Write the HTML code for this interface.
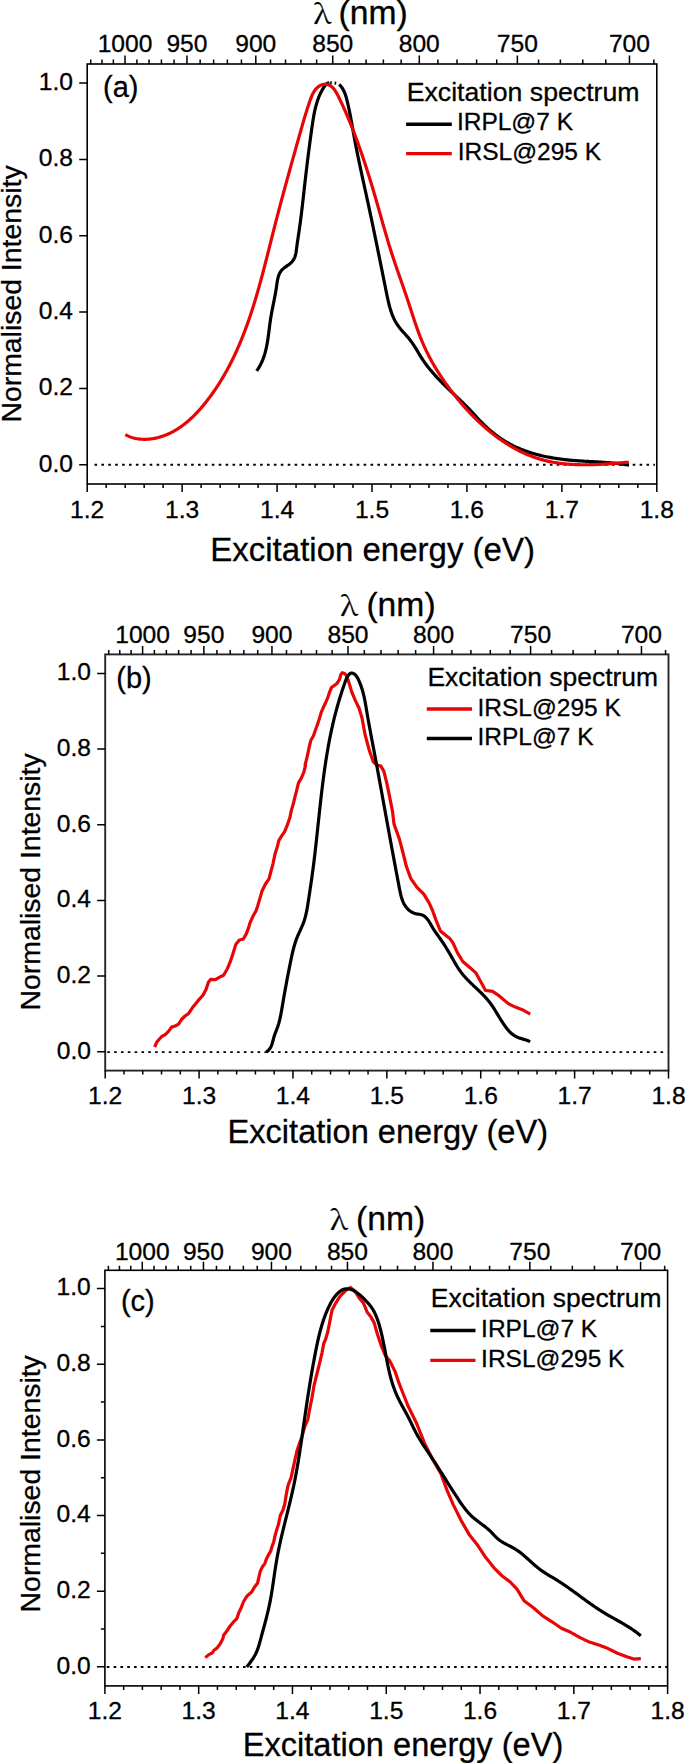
<!DOCTYPE html><html><head><meta charset="utf-8"><style>html,body{margin:0;padding:0;background:#fff;}svg{display:block;}</style></head><body>
<svg width="685" height="1763" viewBox="0 0 685 1763" font-family='"Liberation Sans", Arial, sans-serif' fill="#000">
<style>text{stroke:#000;stroke-width:0.3px;}</style>
<rect width="685" height="1763" fill="#fff"/>
<rect x="87.2" y="64" width="569.6" height="420" fill="none" stroke="#000" stroke-width="1.6"/>
<path d="M87.2 484v8 M106.19 484v4 M125.17 484v4 M144.16 484v4 M163.15 484v4 M182.13 484v8 M201.12 484v4 M220.11 484v4 M239.09 484v4 M258.08 484v4 M277.07 484v8 M296.05 484v4 M315.04 484v4 M334.03 484v4 M353.01 484v4 M372 484v8 M390.99 484v4 M409.97 484v4 M428.96 484v4 M447.95 484v4 M466.93 484v8 M485.92 484v4 M504.91 484v4 M523.89 484v4 M542.88 484v4 M561.87 484v8 M580.85 484v4 M599.84 484v4 M618.83 484v4 M637.81 484v4 M656.8 484v8 M653.83 64v-4.5 M629.46 64v-8.5 M605.78 64v-4.5 M582.75 64v-4.5 M560.36 64v-4.5 M538.57 64v-4.5 M517.36 64v-8.5 M496.71 64v-4.5 M476.6 64v-4.5 M457 64v-4.5 M437.9 64v-4.5 M419.28 64v-8.5 M401.11 64v-4.5 M383.39 64v-4.5 M366.1 64v-4.5 M349.22 64v-4.5 M332.73 64v-8.5 M316.63 64v-4.5 M300.9 64v-4.5 M285.52 64v-4.5 M270.5 64v-4.5 M255.8 64v-8.5 M241.43 64v-4.5 M227.37 64v-4.5 M213.61 64v-4.5 M200.15 64v-4.5 M186.97 64v-8.5 M174.06 64v-4.5 M161.42 64v-4.5 M149.04 64v-4.5 M136.91 64v-4.5 M125.02 64v-8.5 M113.37 64v-4.5 M101.94 64v-4.5 M90.74 64v-4.5 M87.2 464.8h-8 M87.2 388.46h-8 M87.2 312.12h-8 M87.2 235.78h-8 M87.2 159.44h-8 M87.2 83.1h-8" stroke="#000" stroke-width="1.5" fill="none"/>
<line x1="94.5" y1="464.8" x2="655" y2="464.8" stroke="#000" stroke-width="2.1" stroke-dasharray="2.6 4.3"/>
<text x="87.2" y="517.6" font-size="24.6" text-anchor="middle">1.2</text>
<text x="182.13" y="517.6" font-size="24.6" text-anchor="middle">1.3</text>
<text x="277.07" y="517.6" font-size="24.6" text-anchor="middle">1.4</text>
<text x="372" y="517.6" font-size="24.6" text-anchor="middle">1.5</text>
<text x="466.93" y="517.6" font-size="24.6" text-anchor="middle">1.6</text>
<text x="561.87" y="517.6" font-size="24.6" text-anchor="middle">1.7</text>
<text x="656.8" y="517.6" font-size="24.6" text-anchor="middle">1.8</text>
<text x="125.02" y="52" font-size="24.6" text-anchor="middle">1000</text>
<text x="186.97" y="52" font-size="24.6" text-anchor="middle">950</text>
<text x="255.8" y="52" font-size="24.6" text-anchor="middle">900</text>
<text x="332.73" y="52" font-size="24.6" text-anchor="middle">850</text>
<text x="419.28" y="52" font-size="24.6" text-anchor="middle">800</text>
<text x="517.36" y="52" font-size="24.6" text-anchor="middle">750</text>
<text x="629.46" y="52" font-size="24.6" text-anchor="middle">700</text>
<text x="73" y="471.6" font-size="24.6" text-anchor="end">0.0</text>
<text x="73" y="395.26" font-size="24.6" text-anchor="end">0.2</text>
<text x="73" y="318.92" font-size="24.6" text-anchor="end">0.4</text>
<text x="73" y="242.58" font-size="24.6" text-anchor="end">0.6</text>
<text x="73" y="166.24" font-size="24.6" text-anchor="end">0.8</text>
<text x="73" y="89.9" font-size="24.6" text-anchor="end">1.0</text>
<text x="372.6" y="560.9" font-size="33" text-anchor="middle">Excitation energy (eV)</text>
<text transform="translate(313.5 23.7) scale(0.93 0.826)" font-size="33" font-family='"Noto Serif CJK SC", "Liberation Serif", serif'>λ</text>
<text x="338.5" y="23.7" font-size="33.7">(nm)</text>
<text transform="translate(20.6 422.6) rotate(-90)" font-size="28.4">Normalised Intensity</text>
<text x="103" y="96.5" font-size="29">(a)</text>
<text x="406.7" y="100.8" font-size="26.7">Excitation spectrum</text>
<line x1="406.1" y1="124.2" x2="451.8" y2="124.2" stroke="#000" stroke-width="3.4"/>
<text x="456.9" y="129.6" font-size="24.5">IRPL@7 K</text>
<line x1="406.1" y1="153.6" x2="451.8" y2="153.6" stroke="#e80505" stroke-width="3.4"/>
<text x="457.7" y="159.8" font-size="24.5">IRSL@295 K</text>
<path d="M330.2 82.7l1.6 0.1M334.6 83.0l1.6 0.2" stroke="#000" stroke-width="3" fill="none"/>
<path d="M256.66 370.92 L257.37 369.91 L258.05 368.89 L258.7 367.86 L259.33 366.82 L259.92 365.77 L260.49 364.71 L261.03 363.64 L261.55 362.56 L262.04 361.47 L262.51 360.37 L262.95 359.26 L263.37 358.14 L263.77 357.02 L264.15 355.89 L264.51 354.75 L264.86 353.6 L265.18 352.45 L265.49 351.29 L265.78 350.13 L266.06 348.96 L266.32 347.78 L266.57 346.6 L266.81 345.42 L267.03 344.23 L267.25 343.04 L267.45 341.85 L267.64 340.65 L267.83 339.45 L268.01 338.25 L268.18 337.05 L268.35 335.84 L268.51 334.63 L268.67 333.43 L268.83 332.22 L268.98 331.01 L269.13 329.8 L269.28 328.6 L269.43 327.39 L269.59 326.18 L269.74 324.98 L269.9 323.78 L270.06 322.58 L270.23 321.39 L270.4 320.19 L270.58 319 L270.77 317.82 L270.96 316.64 L271.16 315.46 L271.37 314.28 L271.58 313.11 L271.8 311.94 L272.02 310.77 L272.24 309.6 L272.47 308.43 L272.71 307.26 L272.94 306.09 L273.18 304.92 L273.41 303.75 L273.65 302.58 L273.88 301.41 L274.12 300.23 L274.35 299.05 L274.58 297.87 L274.81 296.68 L275.04 295.49 L275.26 294.29 L275.48 293.09 L275.69 291.88 L275.89 290.67 L276.09 289.45 L276.28 288.22 L276.46 286.99 L276.64 285.74 L276.81 284.49 L276.99 283.25 L277.18 282.01 L277.39 280.77 L277.62 279.55 L277.88 278.35 L278.18 277.18 L278.53 276.03 L278.93 274.91 L279.38 273.83 L279.91 272.79 L280.5 271.8 L281.18 270.85 L281.94 269.97 L282.78 269.13 L283.7 268.34 L284.66 267.58 L285.66 266.85 L286.67 266.13 L287.69 265.41 L288.68 264.68 L289.65 263.93 L290.57 263.16 L291.44 262.35 L292.25 261.5 L292.97 260.6 L293.6 259.63 L294.15 258.61 L294.63 257.54 L295.03 256.42 L295.38 255.27 L295.67 254.08 L295.93 252.87 L296.14 251.64 L296.33 250.4 L296.5 249.15 L296.66 247.9 L296.81 246.66 L296.97 245.42 L297.14 244.2 L297.31 242.99 L297.48 241.79 L297.65 240.59 L297.83 239.4 L298.01 238.22 L298.19 237.04 L298.37 235.86 L298.55 234.68 L298.72 233.51 L298.9 232.33 L299.07 231.15 L299.24 229.97 L299.41 228.79 L299.58 227.6 L299.75 226.42 L299.91 225.23 L300.07 224.04 L300.23 222.85 L300.39 221.66 L300.54 220.46 L300.7 219.27 L300.85 218.07 L301 216.88 L301.15 215.68 L301.3 214.48 L301.45 213.28 L301.59 212.08 L301.74 210.88 L301.88 209.68 L302.02 208.48 L302.16 207.27 L302.3 206.07 L302.44 204.87 L302.58 203.66 L302.72 202.46 L302.86 201.26 L302.99 200.05 L303.13 198.85 L303.27 197.64 L303.4 196.44 L303.54 195.23 L303.67 194.03 L303.81 192.83 L303.94 191.62 L304.07 190.42 L304.21 189.22 L304.34 188.01 L304.48 186.81 L304.61 185.61 L304.75 184.41 L304.88 183.21 L305.02 182.02 L305.15 180.82 L305.29 179.62 L305.43 178.43 L305.56 177.23 L305.7 176.04 L305.84 174.85 L305.98 173.66 L306.12 172.47 L306.26 171.28 L306.4 170.09 L306.54 168.9 L306.68 167.71 L306.83 166.52 L306.97 165.34 L307.12 164.15 L307.26 162.96 L307.41 161.78 L307.55 160.59 L307.7 159.4 L307.85 158.22 L308 157.03 L308.15 155.84 L308.3 154.66 L308.45 153.47 L308.6 152.28 L308.75 151.1 L308.91 149.91 L309.06 148.72 L309.22 147.53 L309.37 146.34 L309.53 145.15 L309.69 143.95 L309.84 142.76 L310 141.57 L310.16 140.37 L310.33 139.18 L310.49 137.98 L310.65 136.78 L310.82 135.58 L310.98 134.38 L311.15 133.18 L311.31 131.97 L311.48 130.77 L311.65 129.56 L311.82 128.35 L311.99 127.14 L312.17 125.93 L312.34 124.72 L312.52 123.51 L312.7 122.29 L312.89 121.08 L313.08 119.87 L313.28 118.66 L313.49 117.45 L313.7 116.25 L313.92 115.04 L314.15 113.84 L314.38 112.65 L314.63 111.45 L314.89 110.27 L315.16 109.08 L315.44 107.9 L315.73 106.73 L316.04 105.57 L316.36 104.41 L316.7 103.25 L317.05 102.11 L317.42 100.97 L317.8 99.84 L318.2 98.72 L318.62 97.61 L319.06 96.51 L319.52 95.42 L320 94.34 L320.5 93.27 L321.02 92.21 L321.56 91.16 L322.12 90.13 L322.71 89.11 L323.32 88.1 L323.96 87.11 L324.63 86.13 L325.33 85.18 L326.12 84.32 L327.03 83.59 L328.1 83.05 L329.37 82.75" stroke="#000" stroke-width="3.2" fill="none" stroke-linejoin="round" stroke-linecap="butt"/>
<path d="M339.18 84.43 L340.06 85.31 L340.86 86.22 L341.6 87.17 L342.28 88.15 L342.9 89.16 L343.47 90.2 L343.99 91.26 L344.47 92.34 L344.92 93.44 L345.32 94.56 L345.7 95.7 L346.05 96.84 L346.38 98 L346.69 99.16 L346.99 100.33 L347.28 101.5 L347.56 102.67 L347.84 103.84 L348.11 105.02 L348.37 106.19 L348.63 107.37 L348.89 108.54 L349.14 109.72 L349.38 110.9 L349.62 112.08 L349.86 113.26 L350.09 114.44 L350.32 115.62 L350.54 116.8 L350.77 117.99 L350.99 119.17 L351.2 120.35 L351.42 121.54 L351.63 122.72 L351.85 123.9 L352.06 125.09 L352.27 126.27 L352.48 127.46 L352.69 128.65 L352.9 129.83 L353.11 131.02 L353.32 132.2 L353.53 133.39 L353.74 134.57 L353.96 135.76 L354.17 136.94 L354.39 138.13 L354.61 139.31 L354.83 140.5 L355.06 141.68 L355.28 142.87 L355.51 144.05 L355.74 145.23 L355.97 146.42 L356.2 147.6 L356.44 148.78 L356.67 149.96 L356.91 151.15 L357.14 152.33 L357.38 153.51 L357.62 154.69 L357.86 155.88 L358.11 157.06 L358.35 158.24 L358.6 159.42 L358.84 160.6 L359.09 161.78 L359.34 162.96 L359.59 164.14 L359.83 165.32 L360.09 166.5 L360.34 167.68 L360.59 168.86 L360.84 170.04 L361.09 171.22 L361.35 172.4 L361.6 173.58 L361.86 174.76 L362.11 175.94 L362.37 177.11 L362.63 178.29 L362.88 179.47 L363.14 180.65 L363.4 181.83 L363.65 183 L363.91 184.18 L364.17 185.36 L364.43 186.54 L364.69 187.71 L364.94 188.89 L365.2 190.07 L365.46 191.24 L365.72 192.42 L365.97 193.6 L366.23 194.77 L366.49 195.95 L366.74 197.13 L367 198.3 L367.26 199.48 L367.51 200.65 L367.77 201.83 L368.02 203 L368.27 204.18 L368.53 205.35 L368.78 206.53 L369.03 207.7 L369.28 208.88 L369.53 210.05 L369.78 211.23 L370.03 212.4 L370.28 213.58 L370.53 214.75 L370.78 215.93 L371.03 217.1 L371.28 218.28 L371.52 219.45 L371.77 220.63 L372.02 221.8 L372.26 222.98 L372.51 224.15 L372.76 225.33 L373 226.5 L373.25 227.68 L373.49 228.85 L373.73 230.03 L373.98 231.2 L374.22 232.38 L374.46 233.55 L374.71 234.73 L374.95 235.91 L375.19 237.08 L375.43 238.26 L375.68 239.43 L375.92 240.61 L376.16 241.79 L376.4 242.96 L376.64 244.14 L376.88 245.32 L377.12 246.5 L377.36 247.67 L377.6 248.85 L377.84 250.03 L378.08 251.21 L378.32 252.39 L378.56 253.57 L378.8 254.75 L379.04 255.93 L379.28 257.11 L379.52 258.29 L379.76 259.47 L380 260.65 L380.24 261.83 L380.47 263.01 L380.71 264.19 L380.95 265.38 L381.19 266.56 L381.43 267.74 L381.67 268.93 L381.91 270.11 L382.15 271.29 L382.38 272.48 L382.62 273.67 L382.86 274.85 L383.1 276.04 L383.34 277.22 L383.58 278.41 L383.82 279.6 L384.06 280.79 L384.3 281.98 L384.54 283.17 L384.78 284.36 L385.02 285.55 L385.26 286.74 L385.5 287.93 L385.74 289.12 L385.98 290.31 L386.22 291.51 L386.46 292.7 L386.7 293.9 L386.94 295.09 L387.19 296.28 L387.44 297.47 L387.69 298.66 L387.95 299.85 L388.22 301.04 L388.49 302.22 L388.78 303.39 L389.07 304.57 L389.37 305.73 L389.68 306.9 L390.01 308.05 L390.35 309.2 L390.7 310.34 L391.07 311.47 L391.45 312.6 L391.85 313.71 L392.28 314.82 L392.71 315.91 L393.17 317 L393.65 318.07 L394.16 319.13 L394.68 320.18 L395.23 321.22 L395.81 322.24 L396.41 323.25 L397.04 324.25 L397.69 325.23 L398.38 326.19 L399.09 327.14 L399.82 328.08 L400.58 329 L401.35 329.92 L402.14 330.83 L402.94 331.73 L403.74 332.63 L404.55 333.53 L405.36 334.43 L406.17 335.34 L406.98 336.24 L407.77 337.16 L408.56 338.08 L409.32 339.01 L410.07 339.95 L410.8 340.91 L411.51 341.87 L412.21 342.85 L412.89 343.84 L413.55 344.84 L414.2 345.84 L414.84 346.86 L415.47 347.87 L416.1 348.9 L416.72 349.92 L417.34 350.95 L417.95 351.98 L418.56 353.01 L419.18 354.04 L419.8 355.06 L420.42 356.09 L421.05 357.1 L421.69 358.12 L422.34 359.13 L423 360.12 L423.68 361.12 L424.36 362.1 L425.06 363.08 L425.77 364.04 L426.49 365.01 L427.22 365.96 L427.96 366.91 L428.7 367.85 L429.46 368.78 L430.22 369.71 L431 370.63 L431.77 371.55 L432.56 372.46 L433.35 373.37 L434.15 374.27 L434.95 375.17 L435.76 376.06 L436.57 376.95 L437.39 377.83 L438.22 378.71 L439.05 379.59 L439.88 380.46 L440.72 381.33 L441.56 382.19 L442.41 383.05 L443.26 383.91 L444.11 384.76 L444.97 385.61 L445.83 386.46 L446.69 387.3 L447.55 388.15 L448.42 388.99 L449.29 389.82 L450.16 390.66 L451.03 391.49 L451.9 392.33 L452.78 393.16 L453.65 393.99 L454.53 394.82 L455.4 395.64 L456.28 396.47 L457.15 397.3 L458.03 398.12 L458.9 398.95 L459.77 399.78 L460.64 400.61 L461.51 401.44 L462.38 402.27 L463.24 403.11 L464.1 403.95 L464.96 404.79 L465.81 405.63 L466.65 406.48 L467.5 407.33 L468.34 408.19 L469.17 409.05 L470 409.91 L470.82 410.79 L471.63 411.66 L472.45 412.54 L473.25 413.43 L474.06 414.31 L474.87 415.2 L475.67 416.09 L476.48 416.98 L477.29 417.87 L478.1 418.75 L478.92 419.63 L479.75 420.51 L480.58 421.38 L481.43 422.24 L482.28 423.1 L483.13 423.95 L484 424.8 L484.87 425.63 L485.76 426.46 L486.65 427.29 L487.54 428.1 L488.45 428.91 L489.36 429.71 L490.28 430.5 L491.21 431.28 L492.14 432.06 L493.08 432.82 L494.03 433.58 L494.99 434.32 L495.95 435.06 L496.92 435.78 L497.9 436.5 L498.88 437.2 L499.88 437.89 L500.87 438.57 L501.88 439.24 L502.89 439.9 L503.91 440.55 L504.93 441.18 L505.96 441.81 L507 442.42 L508.04 443.01 L509.09 443.6 L510.14 444.17 L511.2 444.73 L512.27 445.27 L513.34 445.81 L514.42 446.33 L515.5 446.84 L516.59 447.34 L517.68 447.83 L518.78 448.31 L519.88 448.78 L520.99 449.23 L522.1 449.68 L523.22 450.11 L524.34 450.53 L525.46 450.94 L526.59 451.35 L527.73 451.74 L528.86 452.12 L530.01 452.49 L531.15 452.85 L532.3 453.2 L533.45 453.55 L534.61 453.88 L535.77 454.2 L536.93 454.52 L538.09 454.82 L539.26 455.12 L540.43 455.41 L541.61 455.69 L542.78 455.96 L543.96 456.22 L545.14 456.48 L546.33 456.72 L547.51 456.96 L548.7 457.19 L549.89 457.42 L551.08 457.63 L552.27 457.84 L553.46 458.04 L554.66 458.24 L555.86 458.42 L557.05 458.61 L558.25 458.78 L559.45 458.95 L560.65 459.11 L561.85 459.26 L563.06 459.41 L564.26 459.55 L565.46 459.69 L566.66 459.82 L567.87 459.95 L569.07 460.07 L570.27 460.18 L571.47 460.29 L572.68 460.39 L573.88 460.49 L575.08 460.59 L576.28 460.68 L577.48 460.77 L578.68 460.85 L579.88 460.93 L581.08 461.01 L582.28 461.08 L583.48 461.16 L584.68 461.23 L585.88 461.29 L587.08 461.36 L588.27 461.43 L589.47 461.49 L590.67 461.56 L591.87 461.62 L593.07 461.68 L594.26 461.75 L595.46 461.81 L596.66 461.88 L597.86 461.95 L599.05 462.02 L600.25 462.09 L601.45 462.16 L602.64 462.24 L603.84 462.32 L605.04 462.4 L606.24 462.48 L607.43 462.57 L608.63 462.67 L609.83 462.76 L611.03 462.86 L612.23 462.97 L613.42 463.08 L614.62 463.2 L615.82 463.32 L617.02 463.45 L618.22 463.59 L619.42 463.73 L620.62 463.88 L621.82 464.04 L623.02 464.21 L624.22 464.38 L625.42 464.56 L626.63 464.75 L627.83 464.95 L629.03 465.16" stroke="#000" stroke-width="3.2" fill="none" stroke-linejoin="round" stroke-linecap="butt"/>
<path d="M125.27 434.56 L126.31 435.13 L127.37 435.67 L128.44 436.17 L129.53 436.63 L130.63 437.05 L131.75 437.43 L132.88 437.77 L134.02 438.08 L135.17 438.35 L136.33 438.59 L137.5 438.79 L138.68 438.96 L139.87 439.09 L141.06 439.19 L142.26 439.26 L143.47 439.3 L144.67 439.31 L145.88 439.29 L147.09 439.23 L148.31 439.15 L149.52 439.04 L150.73 438.91 L151.94 438.74 L153.15 438.55 L154.36 438.33 L155.56 438.09 L156.75 437.83 L157.94 437.54 L159.12 437.22 L160.3 436.89 L161.46 436.53 L162.62 436.15 L163.77 435.75 L164.9 435.33 L166.02 434.9 L167.14 434.44 L168.24 433.96 L169.33 433.46 L170.42 432.95 L171.49 432.42 L172.55 431.87 L173.6 431.3 L174.65 430.71 L175.68 430.11 L176.7 429.5 L177.72 428.86 L178.72 428.21 L179.72 427.55 L180.7 426.87 L181.68 426.18 L182.65 425.47 L183.61 424.75 L184.56 424.02 L185.5 423.27 L186.43 422.51 L187.35 421.74 L188.27 420.96 L189.17 420.17 L190.07 419.36 L190.96 418.54 L191.84 417.72 L192.72 416.88 L193.58 416.03 L194.44 415.18 L195.29 414.31 L196.14 413.44 L196.97 412.56 L197.8 411.67 L198.62 410.77 L199.43 409.87 L200.24 408.96 L201.04 408.04 L201.83 407.11 L202.61 406.19 L203.39 405.25 L204.16 404.31 L204.93 403.37 L205.69 402.42 L206.44 401.47 L207.18 400.51 L207.92 399.55 L208.66 398.59 L209.38 397.62 L210.1 396.65 L210.82 395.68 L211.53 394.71 L212.23 393.73 L212.93 392.75 L213.62 391.76 L214.3 390.78 L214.98 389.78 L215.65 388.79 L216.32 387.79 L216.98 386.8 L217.64 385.79 L218.29 384.79 L218.94 383.78 L219.58 382.77 L220.21 381.75 L220.84 380.74 L221.46 379.72 L222.08 378.7 L222.69 377.67 L223.3 376.64 L223.9 375.61 L224.5 374.58 L225.09 373.55 L225.68 372.51 L226.26 371.47 L226.84 370.42 L227.41 369.38 L227.98 368.33 L228.54 367.28 L229.1 366.23 L229.65 365.17 L230.2 364.11 L230.74 363.05 L231.28 361.99 L231.81 360.92 L232.34 359.86 L232.87 358.79 L233.39 357.71 L233.91 356.64 L234.42 355.56 L234.93 354.48 L235.43 353.4 L235.93 352.32 L236.42 351.24 L236.91 350.15 L237.4 349.06 L237.88 347.97 L238.36 346.87 L238.83 345.78 L239.31 344.68 L239.77 343.58 L240.23 342.48 L240.69 341.38 L241.15 340.27 L241.6 339.17 L242.05 338.06 L242.49 336.95 L242.93 335.84 L243.37 334.72 L243.8 333.61 L244.23 332.49 L244.66 331.37 L245.08 330.25 L245.5 329.13 L245.92 328 L246.33 326.88 L246.74 325.75 L247.15 324.62 L247.55 323.49 L247.95 322.36 L248.35 321.23 L248.75 320.09 L249.14 318.96 L249.53 317.82 L249.91 316.68 L250.3 315.54 L250.68 314.4 L251.06 313.26 L251.43 312.11 L251.8 310.97 L252.17 309.82 L252.54 308.68 L252.91 307.53 L253.27 306.38 L253.63 305.23 L253.99 304.07 L254.34 302.92 L254.69 301.77 L255.05 300.61 L255.39 299.46 L255.74 298.3 L256.09 297.14 L256.43 295.98 L256.77 294.82 L257.11 293.66 L257.44 292.5 L257.78 291.34 L258.11 290.18 L258.44 289.01 L258.77 287.85 L259.1 286.68 L259.42 285.52 L259.75 284.35 L260.07 283.18 L260.39 282.01 L260.71 280.85 L261.03 279.68 L261.34 278.51 L261.66 277.34 L261.97 276.17 L262.29 275 L262.6 273.82 L262.91 272.65 L263.22 271.48 L263.53 270.31 L263.83 269.13 L264.14 267.96 L264.44 266.79 L264.75 265.61 L265.05 264.44 L265.35 263.26 L265.65 262.09 L265.95 260.91 L266.25 259.74 L266.55 258.56 L266.85 257.39 L267.15 256.21 L267.45 255.04 L267.74 253.86 L268.04 252.69 L268.34 251.51 L268.63 250.33 L268.93 249.16 L269.22 247.98 L269.52 246.81 L269.81 245.63 L270.11 244.46 L270.4 243.28 L270.7 242.11 L270.99 240.93 L271.29 239.76 L271.58 238.59 L271.88 237.41 L272.17 236.24 L272.47 235.07 L272.76 233.9 L273.06 232.72 L273.35 231.55 L273.65 230.38 L273.95 229.21 L274.24 228.04 L274.54 226.87 L274.84 225.7 L275.14 224.53 L275.44 223.36 L275.74 222.2 L276.04 221.03 L276.34 219.86 L276.64 218.7 L276.94 217.53 L277.25 216.37 L277.55 215.2 L277.85 214.04 L278.16 212.88 L278.46 211.72 L278.77 210.55 L279.08 209.39 L279.38 208.23 L279.69 207.07 L280 205.91 L280.31 204.75 L280.61 203.59 L280.92 202.43 L281.23 201.28 L281.54 200.12 L281.85 198.96 L282.16 197.8 L282.47 196.65 L282.79 195.49 L283.1 194.34 L283.41 193.18 L283.72 192.03 L284.04 190.87 L284.35 189.72 L284.66 188.56 L284.98 187.41 L285.29 186.26 L285.61 185.11 L285.92 183.95 L286.24 182.8 L286.55 181.65 L286.87 180.5 L287.19 179.35 L287.5 178.2 L287.82 177.05 L288.14 175.9 L288.46 174.75 L288.77 173.6 L289.09 172.45 L289.41 171.3 L289.73 170.15 L290.05 169 L290.37 167.86 L290.68 166.71 L291 165.56 L291.32 164.41 L291.64 163.27 L291.96 162.12 L292.28 160.97 L292.6 159.83 L292.92 158.68 L293.24 157.53 L293.56 156.39 L293.88 155.24 L294.21 154.1 L294.53 152.95 L294.85 151.81 L295.17 150.66 L295.49 149.52 L295.81 148.37 L296.13 147.23 L296.45 146.08 L296.77 144.94 L297.09 143.79 L297.42 142.65 L297.74 141.51 L298.06 140.36 L298.38 139.22 L298.7 138.07 L299.02 136.93 L299.34 135.79 L299.66 134.64 L299.99 133.5 L300.31 132.35 L300.63 131.21 L300.96 130.06 L301.28 128.91 L301.61 127.76 L301.94 126.61 L302.27 125.46 L302.6 124.31 L302.94 123.15 L303.28 121.99 L303.62 120.83 L303.96 119.67 L304.31 118.5 L304.66 117.33 L305.01 116.16 L305.37 114.98 L305.73 113.8 L306.1 112.62 L306.46 111.43 L306.84 110.24 L307.22 109.05 L307.6 107.85 L307.99 106.64 L308.39 105.43 L308.79 104.22 L309.19 103 L309.6 101.78 L310.03 100.56 L310.46 99.34 L310.92 98.14 L311.39 96.95 L311.88 95.79 L312.4 94.65 L312.95 93.54 L313.53 92.47 L314.14 91.45 L314.79 90.46 L315.48 89.53 L316.22 88.66 L317 87.85 L317.83 87.1 L318.71 86.42 L319.65 85.82 L320.64 85.31 L321.67 84.88 L322.73 84.56 L323.8 84.34 L324.89 84.24 L325.96 84.26 L327.02 84.39 L328.05 84.64 L329.03 84.99 L329.96 85.46 L330.85 86.02 L331.7 86.68 L332.5 87.42 L333.27 88.23 L334.01 89.12 L334.72 90.07 L335.39 91.07 L336.05 92.11 L336.68 93.2 L337.29 94.31 L337.88 95.45 L338.46 96.61 L339.03 97.77 L339.59 98.93 L340.15 100.09 L340.7 101.24 L341.24 102.39 L341.78 103.54 L342.31 104.68 L342.83 105.82 L343.35 106.96 L343.86 108.09 L344.37 109.22 L344.88 110.35 L345.37 111.48 L345.87 112.6 L346.36 113.72 L346.84 114.84 L347.32 115.95 L347.79 117.07 L348.26 118.18 L348.73 119.29 L349.19 120.4 L349.64 121.51 L350.1 122.61 L350.55 123.72 L350.99 124.83 L351.43 125.93 L351.87 127.03 L352.31 128.14 L352.74 129.24 L353.17 130.35 L353.6 131.45 L354.02 132.55 L354.44 133.66 L354.86 134.76 L355.27 135.87 L355.68 136.97 L356.1 138.08 L356.5 139.19 L356.91 140.29 L357.31 141.4 L357.72 142.52 L358.12 143.63 L358.52 144.75 L358.92 145.86 L359.31 146.98 L359.71 148.1 L360.1 149.23 L360.5 150.35 L360.89 151.48 L361.28 152.61 L361.67 153.74 L362.05 154.87 L362.44 156 L362.82 157.14 L363.21 158.28 L363.59 159.41 L363.97 160.55 L364.35 161.69 L364.72 162.84 L365.1 163.98 L365.47 165.12 L365.85 166.27 L366.22 167.42 L366.59 168.56 L366.96 169.71 L367.33 170.86 L367.69 172.01 L368.06 173.17 L368.42 174.32 L368.78 175.47 L369.15 176.63 L369.5 177.78 L369.86 178.94 L370.22 180.09 L370.57 181.25 L370.93 182.41 L371.28 183.56 L371.63 184.72 L371.98 185.88 L372.33 187.04 L372.68 188.2 L373.02 189.36 L373.37 190.51 L373.71 191.67 L374.05 192.83 L374.39 193.99 L374.73 195.15 L375.07 196.31 L375.41 197.47 L375.74 198.63 L376.08 199.79 L376.41 200.95 L376.74 202.11 L377.07 203.27 L377.4 204.43 L377.74 205.59 L378.06 206.74 L378.39 207.9 L378.72 209.06 L379.05 210.22 L379.38 211.38 L379.71 212.53 L380.03 213.69 L380.36 214.85 L380.69 216.01 L381.02 217.16 L381.34 218.32 L381.67 219.48 L382 220.63 L382.33 221.79 L382.66 222.94 L382.98 224.1 L383.31 225.25 L383.64 226.41 L383.97 227.56 L384.31 228.71 L384.64 229.86 L384.97 231.02 L385.3 232.17 L385.64 233.32 L385.98 234.47 L386.31 235.62 L386.65 236.77 L386.99 237.92 L387.33 239.07 L387.68 240.22 L388.02 241.36 L388.36 242.51 L388.71 243.66 L389.06 244.8 L389.41 245.95 L389.76 247.09 L390.12 248.23 L390.48 249.38 L390.83 250.52 L391.19 251.66 L391.56 252.8 L391.92 253.94 L392.29 255.08 L392.66 256.22 L393.03 257.36 L393.41 258.49 L393.78 259.63 L394.16 260.76 L394.54 261.9 L394.93 263.03 L395.31 264.17 L395.7 265.3 L396.08 266.43 L396.47 267.57 L396.86 268.7 L397.25 269.83 L397.65 270.96 L398.04 272.1 L398.43 273.23 L398.83 274.36 L399.22 275.49 L399.62 276.63 L400.02 277.76 L400.41 278.89 L400.81 280.03 L401.21 281.16 L401.6 282.29 L402 283.43 L402.4 284.56 L402.79 285.7 L403.19 286.83 L403.58 287.97 L403.98 289.11 L404.37 290.25 L404.76 291.39 L405.15 292.53 L405.54 293.67 L405.93 294.81 L406.32 295.95 L406.71 297.1 L407.09 298.24 L407.47 299.39 L407.86 300.54 L408.23 301.69 L408.61 302.84 L408.99 303.99 L409.36 305.14 L409.74 306.29 L410.11 307.45 L410.49 308.6 L410.86 309.76 L411.23 310.91 L411.61 312.06 L411.98 313.22 L412.36 314.37 L412.73 315.53 L413.11 316.68 L413.49 317.83 L413.87 318.98 L414.25 320.13 L414.63 321.28 L415.02 322.43 L415.41 323.58 L415.8 324.72 L416.19 325.87 L416.59 327.01 L416.99 328.15 L417.39 329.29 L417.8 330.42 L418.22 331.56 L418.63 332.69 L419.05 333.82 L419.48 334.94 L419.91 336.06 L420.35 337.18 L420.79 338.3 L421.24 339.41 L421.69 340.52 L422.15 341.63 L422.62 342.73 L423.09 343.83 L423.57 344.93 L424.05 346.02 L424.54 347.11 L425.04 348.19 L425.55 349.27 L426.06 350.35 L426.58 351.42 L427.1 352.49 L427.63 353.56 L428.17 354.62 L428.71 355.68 L429.26 356.74 L429.81 357.79 L430.37 358.84 L430.94 359.88 L431.51 360.93 L432.09 361.97 L432.67 363 L433.26 364.03 L433.85 365.06 L434.46 366.09 L435.06 367.11 L435.67 368.14 L436.29 369.15 L436.92 370.17 L437.54 371.18 L438.18 372.19 L438.82 373.19 L439.46 374.2 L440.11 375.19 L440.77 376.19 L441.43 377.19 L442.1 378.18 L442.77 379.17 L443.44 380.15 L444.12 381.14 L444.81 382.12 L445.5 383.1 L446.2 384.07 L446.9 385.05 L447.61 386.02 L448.32 386.99 L449.03 387.95 L449.75 388.92 L450.48 389.88 L451.21 390.84 L451.94 391.79 L452.68 392.75 L453.42 393.7 L454.17 394.65 L454.92 395.6 L455.68 396.54 L456.44 397.49 L457.21 398.43 L457.98 399.37 L458.75 400.3 L459.53 401.23 L460.31 402.16 L461.1 403.09 L461.89 404.01 L462.69 404.93 L463.49 405.85 L464.3 406.76 L465.11 407.67 L465.92 408.57 L466.74 409.48 L467.56 410.37 L468.39 411.27 L469.22 412.16 L470.06 413.05 L470.9 413.93 L471.75 414.8 L472.59 415.68 L473.45 416.55 L474.31 417.41 L475.17 418.27 L476.04 419.12 L476.91 419.97 L477.78 420.82 L478.66 421.66 L479.55 422.49 L480.44 423.32 L481.33 424.14 L482.23 424.96 L483.13 425.77 L484.04 426.58 L484.95 427.38 L485.86 428.17 L486.78 428.96 L487.7 429.74 L488.63 430.52 L489.56 431.29 L490.5 432.05 L491.44 432.81 L492.38 433.56 L493.33 434.3 L494.29 435.04 L495.24 435.77 L496.21 436.5 L497.17 437.21 L498.14 437.92 L499.12 438.62 L500.1 439.32 L501.08 440 L502.07 440.68 L503.06 441.35 L504.05 442.02 L505.05 442.67 L506.06 443.32 L507.07 443.96 L508.08 444.59 L509.1 445.22 L510.12 445.83 L511.14 446.44 L512.17 447.04 L513.21 447.63 L514.25 448.21 L515.29 448.78 L516.33 449.34 L517.38 449.9 L518.44 450.44 L519.5 450.98 L520.56 451.5 L521.63 452.02 L522.7 452.53 L523.78 453.02 L524.86 453.51 L525.94 453.99 L527.03 454.46 L528.12 454.92 L529.22 455.36 L530.32 455.8 L531.42 456.23 L532.53 456.65 L533.64 457.05 L534.76 457.45 L535.88 457.83 L537.01 458.21 L538.14 458.57 L539.27 458.92 L540.41 459.26 L541.55 459.59 L542.69 459.91 L543.84 460.22 L545 460.52 L546.16 460.8 L547.32 461.07 L548.48 461.34 L549.65 461.59 L550.83 461.83 L552 462.05 L553.18 462.27 L554.37 462.48 L555.55 462.68 L556.74 462.86 L557.93 463.04 L559.13 463.21 L560.33 463.36 L561.53 463.51 L562.73 463.65 L563.93 463.78 L565.14 463.9 L566.35 464.01 L567.56 464.12 L568.77 464.21 L569.99 464.3 L571.2 464.38 L572.42 464.45 L573.64 464.51 L574.86 464.57 L576.08 464.62 L577.3 464.66 L578.52 464.69 L579.74 464.72 L580.96 464.74 L582.19 464.76 L583.41 464.76 L584.63 464.77 L585.86 464.76 L587.08 464.75 L588.3 464.74 L589.52 464.72 L590.75 464.69 L591.97 464.66 L593.19 464.62 L594.41 464.58 L595.63 464.54 L596.84 464.49 L598.06 464.44 L599.27 464.38 L600.49 464.32 L601.7 464.25 L602.91 464.18 L604.11 464.11 L605.32 464.04 L606.52 463.96 L607.72 463.88 L608.92 463.79 L610.12 463.71 L611.31 463.62 L612.5 463.53 L613.69 463.44 L614.87 463.35 L616.05 463.25 L617.23 463.15 L618.41 463.06 L619.58 462.96 L620.74 462.86 L621.91 462.76 L623.07 462.66 L624.22 462.55 L625.37 462.45 L626.52 462.35 L627.66 462.25 L628.8 462.15" stroke="#e80505" stroke-width="3.2" fill="none" stroke-linejoin="round" stroke-linecap="butt"/>
<rect x="105.2" y="654.4" width="563.3" height="416.2" fill="none" stroke="#262626" stroke-width="1.9"/>
<path d="M105.2 1070.6v8 M123.98 1070.6v4 M142.75 1070.6v4 M161.53 1070.6v4 M180.31 1070.6v4 M199.08 1070.6v8 M217.86 1070.6v4 M236.64 1070.6v4 M255.41 1070.6v4 M274.19 1070.6v4 M292.97 1070.6v8 M311.74 1070.6v4 M330.52 1070.6v4 M349.3 1070.6v4 M368.07 1070.6v4 M386.85 1070.6v8 M405.63 1070.6v4 M424.4 1070.6v4 M443.18 1070.6v4 M461.96 1070.6v4 M480.73 1070.6v8 M499.51 1070.6v4 M518.29 1070.6v4 M537.06 1070.6v4 M555.84 1070.6v4 M574.62 1070.6v8 M593.39 1070.6v4 M612.17 1070.6v4 M630.95 1070.6v4 M649.72 1070.6v4 M668.5 1070.6v8 M665.56 654.4v-4.5 M641.46 654.4v-8.5 M618.04 654.4v-4.5 M595.27 654.4v-4.5 M573.12 654.4v-4.5 M551.58 654.4v-4.5 M530.6 654.4v-8.5 M510.18 654.4v-4.5 M490.29 654.4v-4.5 M470.91 654.4v-4.5 M452.02 654.4v-4.5 M433.6 654.4v-8.5 M415.64 654.4v-4.5 M398.12 654.4v-4.5 M381.01 654.4v-4.5 M364.32 654.4v-4.5 M348.02 654.4v-8.5 M332.09 654.4v-4.5 M316.53 654.4v-4.5 M301.33 654.4v-4.5 M286.47 654.4v-4.5 M271.94 654.4v-8.5 M257.72 654.4v-4.5 M243.82 654.4v-4.5 M230.22 654.4v-4.5 M216.9 654.4v-4.5 M203.87 654.4v-8.5 M191.1 654.4v-4.5 M178.6 654.4v-4.5 M166.36 654.4v-4.5 M154.36 654.4v-4.5 M142.6 654.4v-8.5 M131.08 654.4v-4.5 M119.78 654.4v-4.5 M108.7 654.4v-4.5 M105.2 1051.7h-8 M105.2 976.04h-8 M105.2 900.38h-8 M105.2 824.72h-8 M105.2 749.06h-8 M105.2 673.4h-8" stroke="#000" stroke-width="1.5" fill="none"/>
<line x1="107.3" y1="1052.1" x2="667.5" y2="1052.1" stroke="#000" stroke-width="1.8" stroke-dasharray="2.6 4.23"/>
<text x="105.2" y="1104" font-size="24.6" text-anchor="middle">1.2</text>
<text x="199.08" y="1104" font-size="24.6" text-anchor="middle">1.3</text>
<text x="292.97" y="1104" font-size="24.6" text-anchor="middle">1.4</text>
<text x="386.85" y="1104" font-size="24.6" text-anchor="middle">1.5</text>
<text x="480.73" y="1104" font-size="24.6" text-anchor="middle">1.6</text>
<text x="574.62" y="1104" font-size="24.6" text-anchor="middle">1.7</text>
<text x="668.5" y="1104" font-size="24.6" text-anchor="middle">1.8</text>
<text x="142.6" y="643" font-size="24.6" text-anchor="middle">1000</text>
<text x="203.87" y="643" font-size="24.6" text-anchor="middle">950</text>
<text x="271.94" y="643" font-size="24.6" text-anchor="middle">900</text>
<text x="348.02" y="643" font-size="24.6" text-anchor="middle">850</text>
<text x="433.6" y="643" font-size="24.6" text-anchor="middle">800</text>
<text x="530.6" y="643" font-size="24.6" text-anchor="middle">750</text>
<text x="641.46" y="643" font-size="24.6" text-anchor="middle">700</text>
<text x="91" y="1058.5" font-size="24.6" text-anchor="end">0.0</text>
<text x="91" y="982.84" font-size="24.6" text-anchor="end">0.2</text>
<text x="91" y="907.18" font-size="24.6" text-anchor="end">0.4</text>
<text x="91" y="831.52" font-size="24.6" text-anchor="end">0.6</text>
<text x="91" y="755.86" font-size="24.6" text-anchor="end">0.8</text>
<text x="91" y="680.2" font-size="24.6" text-anchor="end">1.0</text>
<text x="387.8" y="1142.9" font-size="32.6" text-anchor="middle">Excitation energy (eV)</text>
<text transform="translate(340.2 616.1) scale(0.93 0.826)" font-size="33" font-family='"Noto Serif CJK SC", "Liberation Serif", serif'>λ</text>
<text x="366.4" y="616.1" font-size="33.7">(nm)</text>
<text transform="translate(39.6 1010.5) rotate(-90)" font-size="28.4">Normalised Intensity</text>
<text x="116.3" y="688.2" font-size="29">(b)</text>
<text x="427.4" y="685.7" font-size="26.45">Excitation spectrum</text>
<line x1="426.8" y1="709" x2="472" y2="709" stroke="#e80505" stroke-width="3.4"/>
<text x="477.5" y="716" font-size="24.5">IRSL@295 K</text>
<line x1="426.8" y1="738.5" x2="472" y2="738.5" stroke="#000" stroke-width="3.4"/>
<text x="477.5" y="745.3" font-size="24.5">IRPL@7 K</text>
<path d="M154.7 1047 L157 1041.7 L161.7 1036.5 L165.2 1034.7 L168.7 1031.2 L171.6 1027.1 L175.1 1026 L178.6 1024.2 L181.5 1019.5 L185 1016 L188.5 1013.7 L193.2 1006.7 L197.9 1000.9 L203.1 995 L206.1 989.2 L208.4 982.2 L210.7 979.3 L215.4 979.6 L220.1 976.9 L223.6 975.2 L227.1 969.3 L230.5 961.1 L233.1 953.2 L235.8 944.4 L239.3 940 L243.2 939.2 L246.3 933.9 L248.9 926.9 L249.8 923.4 L253.3 915.5 L255.9 911.2 L257.7 905.9 L260.3 897.1 L262 891 L265.5 884 L269 878.8 L270.5 873 L273.1 863.3 L274.9 854.6 L277.1 847.6 L278.8 840.6 L281.5 836.2 L284.5 831.8 L287.1 825.7 L289.8 817.8 L291.5 809.9 L293.3 803.8 L295 796.8 L296.8 789.8 L298.5 782.8 L301.2 778.4 L303.8 772.3 L305.5 765.3 L305.1 765 L307.3 756.2 L309.1 747.5 L310.9 740.2 L313.5 735.8 L315.7 729.2 L317.9 723.4 L319.7 717.6 L321.2 712.4 L323.4 707.3 L325.5 703 L327.7 697.8 L329.9 691.3 L331.4 687.6 L334.3 685.4 L337.2 683.2 L339.4 679.6 L340.9 674.5 L342.3 672.7 L344.5 673.4 L346.7 675.9 L348.5 681.1 L351.8 692.1 L355.5 700.9 L359.1 708.2 L362 718 L365.2 735.2 L369.3 750.4 L373.4 762 L376.9 765 L380.9 766.1 L383.9 771.4 L386.8 783.1 L389.7 797.1 L392.6 812 L394 824 L399.3 838.9 L402.8 852 L406.3 866.1 L410.7 878.3 L416.8 887.1 L423.8 894.1 L429.1 902.9 L432.6 910.7 L436.1 920.4 L440.4 930.9 L445.7 935.3 L450.1 938.8 L453.1 943.1 L457.5 952.8 L462.8 961.5 L468.9 966.8 L475.9 972.9 L481.2 982.6 L485.5 990.4 L492.6 991.3 L497.8 994.8 L503.1 999.2 L508.3 1003.6 L515.3 1007.1 L522.3 1009.7 L530.2 1014.1" stroke="#e80505" stroke-width="3.2" fill="none" stroke-linejoin="round" stroke-linecap="butt"/>
<path d="M266.51 1051.9 L267.54 1051.15 L268.45 1050.32 L269.25 1049.43 L269.94 1048.48 L270.55 1047.47 L271.08 1046.43 L271.54 1045.34 L271.95 1044.23 L272.31 1043.08 L272.64 1041.92 L272.96 1040.74 L273.26 1039.56 L273.57 1038.37 L273.89 1037.2 L274.24 1036.03 L274.62 1034.88 L275.02 1033.74 L275.45 1032.61 L275.89 1031.49 L276.33 1030.37 L276.77 1029.25 L277.2 1028.14 L277.61 1027.01 L278 1025.88 L278.37 1024.74 L278.72 1023.6 L279.04 1022.44 L279.35 1021.29 L279.64 1020.12 L279.92 1018.95 L280.18 1017.78 L280.43 1016.6 L280.67 1015.42 L280.9 1014.24 L281.12 1013.06 L281.33 1011.87 L281.54 1010.68 L281.75 1009.49 L281.95 1008.3 L282.15 1007.11 L282.35 1005.92 L282.55 1004.73 L282.75 1003.54 L282.96 1002.36 L283.16 1001.17 L283.37 999.98 L283.57 998.8 L283.78 997.61 L283.99 996.43 L284.19 995.25 L284.4 994.06 L284.61 992.88 L284.83 991.7 L285.04 990.52 L285.25 989.34 L285.47 988.16 L285.68 986.97 L285.9 985.79 L286.12 984.61 L286.33 983.43 L286.55 982.26 L286.77 981.08 L287 979.9 L287.22 978.72 L287.44 977.54 L287.67 976.36 L287.9 975.18 L288.12 974 L288.35 972.82 L288.58 971.64 L288.81 970.47 L289.05 969.29 L289.28 968.11 L289.52 966.93 L289.75 965.75 L289.99 964.57 L290.23 963.39 L290.47 962.21 L290.71 961.03 L290.96 959.85 L291.2 958.66 L291.45 957.48 L291.71 956.3 L291.96 955.12 L292.22 953.94 L292.49 952.77 L292.77 951.59 L293.05 950.42 L293.35 949.25 L293.65 948.09 L293.96 946.93 L294.29 945.77 L294.63 944.61 L294.98 943.46 L295.34 942.32 L295.72 941.18 L296.12 940.05 L296.53 938.92 L296.96 937.8 L297.41 936.69 L297.88 935.58 L298.36 934.48 L298.85 933.38 L299.34 932.29 L299.85 931.2 L300.35 930.11 L300.85 929.01 L301.35 927.92 L301.83 926.82 L302.31 925.72 L302.76 924.62 L303.2 923.5 L303.62 922.38 L304.02 921.26 L304.39 920.12 L304.74 918.98 L305.07 917.83 L305.38 916.67 L305.68 915.51 L305.96 914.34 L306.22 913.17 L306.47 911.99 L306.71 910.81 L306.94 909.63 L307.15 908.44 L307.36 907.25 L307.56 906.06 L307.76 904.87 L307.95 903.68 L308.13 902.48 L308.32 901.29 L308.5 900.1 L308.68 898.9 L308.86 897.71 L309.05 896.52 L309.23 895.33 L309.41 894.14 L309.59 892.95 L309.77 891.76 L309.95 890.57 L310.12 889.39 L310.3 888.2 L310.48 887.01 L310.65 885.83 L310.83 884.64 L311 883.45 L311.17 882.27 L311.35 881.08 L311.52 879.89 L311.68 878.71 L311.85 877.52 L312.02 876.33 L312.18 875.15 L312.35 873.96 L312.51 872.77 L312.67 871.58 L312.83 870.39 L312.98 869.21 L313.14 868.02 L313.29 866.83 L313.45 865.64 L313.6 864.45 L313.75 863.26 L313.9 862.06 L314.04 860.87 L314.19 859.68 L314.33 858.49 L314.48 857.3 L314.62 856.1 L314.76 854.91 L314.9 853.72 L315.04 852.52 L315.18 851.33 L315.31 850.14 L315.45 848.94 L315.59 847.75 L315.72 846.55 L315.85 845.36 L315.99 844.16 L316.12 842.97 L316.25 841.77 L316.38 840.57 L316.51 839.38 L316.64 838.18 L316.77 836.99 L316.9 835.79 L317.03 834.59 L317.16 833.4 L317.29 832.2 L317.42 831 L317.54 829.8 L317.67 828.61 L317.8 827.41 L317.93 826.21 L318.05 825.01 L318.18 823.82 L318.31 822.62 L318.43 821.42 L318.56 820.22 L318.69 819.03 L318.82 817.83 L318.94 816.63 L319.07 815.43 L319.2 814.24 L319.33 813.04 L319.46 811.84 L319.59 810.64 L319.72 809.45 L319.85 808.25 L319.98 807.05 L320.11 805.85 L320.24 804.66 L320.37 803.46 L320.51 802.26 L320.64 801.07 L320.78 799.87 L320.91 798.67 L321.05 797.48 L321.18 796.28 L321.32 795.08 L321.46 793.89 L321.6 792.69 L321.74 791.5 L321.89 790.3 L322.03 789.11 L322.17 787.91 L322.32 786.72 L322.47 785.52 L322.62 784.33 L322.77 783.13 L322.92 781.94 L323.07 780.75 L323.22 779.55 L323.38 778.36 L323.54 777.17 L323.7 775.98 L323.86 774.78 L324.02 773.59 L324.18 772.4 L324.35 771.21 L324.52 770.02 L324.68 768.83 L324.86 767.64 L325.03 766.45 L325.2 765.26 L325.38 764.07 L325.56 762.89 L325.74 761.7 L325.92 760.51 L326.11 759.32 L326.3 758.14 L326.49 756.95 L326.68 755.77 L326.87 754.58 L327.07 753.4 L327.27 752.21 L327.47 751.03 L327.67 749.85 L327.88 748.67 L328.09 747.48 L328.3 746.3 L328.51 745.12 L328.73 743.94 L328.95 742.76 L329.17 741.58 L329.4 740.41 L329.63 739.23 L329.86 738.05 L330.09 736.87 L330.33 735.7 L330.57 734.52 L330.81 733.35 L331.06 732.17 L331.31 731 L331.56 729.83 L331.81 728.66 L332.07 727.49 L332.33 726.31 L332.6 725.14 L332.87 723.98 L333.14 722.81 L333.42 721.64 L333.69 720.47 L333.98 719.31 L334.26 718.14 L334.55 716.98 L334.85 715.81 L335.14 714.65 L335.44 713.49 L335.75 712.33 L336.06 711.17 L336.37 710.01 L336.69 708.85 L337 707.69 L337.33 706.53 L337.65 705.37 L337.99 704.21 L338.32 703.06 L338.66 701.9 L339 700.74 L339.35 699.59 L339.7 698.43 L340.05 697.28 L340.41 696.12 L340.77 694.97 L341.14 693.81 L341.51 692.66 L341.88 691.5 L342.26 690.35 L342.65 689.2 L343.03 688.04 L343.42 686.89 L343.82 685.74 L344.22 684.58 L344.62 683.43 L345.03 682.28 L345.44 681.13 L345.87 679.98 L346.34 678.86 L346.85 677.76 L347.42 676.7 L348.06 675.68 L348.79 674.74 L349.6 673.94 L350.49 673.36 L351.45 673.09 L352.47 673.16 L353.5 673.53 L354.5 674.14 L355.42 674.93 L356.22 675.85 L356.92 676.86 L357.54 677.94 L358.11 679.05 L358.65 680.17 L359.17 681.29 L359.65 682.42 L360.12 683.56 L360.56 684.7 L360.98 685.84 L361.38 686.98 L361.76 688.13 L362.12 689.28 L362.47 690.44 L362.79 691.6 L363.11 692.76 L363.4 693.92 L363.69 695.09 L363.96 696.26 L364.22 697.43 L364.47 698.6 L364.7 699.78 L364.93 700.95 L365.16 702.13 L365.37 703.31 L365.58 704.49 L365.79 705.67 L365.99 706.85 L366.19 708.03 L366.39 709.21 L366.59 710.4 L366.78 711.58 L366.98 712.76 L367.18 713.94 L367.39 715.12 L367.59 716.3 L367.8 717.48 L368 718.66 L368.21 719.84 L368.42 721.02 L368.63 722.2 L368.85 723.38 L369.06 724.56 L369.28 725.74 L369.49 726.92 L369.71 728.1 L369.93 729.27 L370.15 730.45 L370.37 731.63 L370.59 732.81 L370.81 733.99 L371.03 735.17 L371.25 736.35 L371.47 737.52 L371.7 738.7 L371.92 739.88 L372.14 741.06 L372.37 742.24 L372.59 743.42 L372.82 744.6 L373.04 745.78 L373.26 746.96 L373.49 748.14 L373.71 749.32 L373.93 750.5 L374.16 751.68 L374.38 752.87 L374.6 754.05 L374.83 755.23 L375.05 756.41 L375.27 757.6 L375.49 758.78 L375.71 759.96 L375.93 761.15 L376.15 762.33 L376.37 763.51 L376.59 764.7 L376.81 765.88 L377.03 767.07 L377.25 768.25 L377.47 769.44 L377.69 770.62 L377.91 771.81 L378.13 772.99 L378.34 774.18 L378.56 775.36 L378.78 776.55 L379 777.74 L379.21 778.92 L379.43 780.11 L379.65 781.29 L379.87 782.48 L380.08 783.66 L380.3 784.85 L380.52 786.04 L380.73 787.22 L380.95 788.41 L381.16 789.59 L381.38 790.78 L381.6 791.96 L381.81 793.15 L382.03 794.33 L382.24 795.52 L382.46 796.7 L382.67 797.88 L382.89 799.07 L383.1 800.25 L383.32 801.44 L383.53 802.62 L383.75 803.8 L383.96 804.98 L384.18 806.17 L384.39 807.35 L384.61 808.53 L384.82 809.71 L385.04 810.89 L385.25 812.08 L385.47 813.26 L385.68 814.44 L385.89 815.62 L386.11 816.79 L386.32 817.97 L386.54 819.15 L386.75 820.33 L386.97 821.51 L387.18 822.68 L387.4 823.86 L387.61 825.04 L387.83 826.21 L388.04 827.39 L388.26 828.56 L388.47 829.74 L388.69 830.92 L388.9 832.09 L389.12 833.27 L389.33 834.44 L389.55 835.61 L389.76 836.79 L389.98 837.96 L390.2 839.14 L390.41 840.32 L390.63 841.49 L390.85 842.67 L391.06 843.84 L391.28 845.02 L391.5 846.19 L391.71 847.37 L391.93 848.55 L392.15 849.73 L392.37 850.9 L392.59 852.08 L392.81 853.26 L393.03 854.44 L393.24 855.62 L393.46 856.8 L393.69 857.98 L393.91 859.17 L394.13 860.35 L394.35 861.53 L394.57 862.72 L394.79 863.9 L395.01 865.09 L395.24 866.28 L395.46 867.46 L395.68 868.65 L395.91 869.84 L396.13 871.04 L396.36 872.23 L396.58 873.42 L396.81 874.62 L397.03 875.81 L397.26 877.01 L397.49 878.21 L397.71 879.41 L397.94 880.61 L398.17 881.81 L398.4 883.02 L398.63 884.22 L398.86 885.43 L399.09 886.64 L399.32 887.85 L399.56 889.06 L399.79 890.27 L400.04 891.47 L400.3 892.67 L400.57 893.87 L400.85 895.05 L401.16 896.22 L401.49 897.38 L401.84 898.52 L402.22 899.65 L402.63 900.75 L403.07 901.83 L403.55 902.89 L404.07 903.92 L404.64 904.93 L405.25 905.9 L405.9 906.84 L406.61 907.75 L407.37 908.62 L408.19 909.45 L409.06 910.24 L410 910.99 L411 911.68 L412.05 912.31 L413.15 912.85 L414.3 913.3 L415.48 913.65 L416.7 913.9 L417.92 914.1 L419.14 914.29 L420.33 914.5 L421.47 914.79 L422.55 915.18 L423.56 915.69 L424.5 916.31 L425.39 917.03 L426.22 917.83 L427 918.72 L427.75 919.66 L428.46 920.66 L429.14 921.71 L429.8 922.78 L430.45 923.88 L431.08 924.98 L431.71 926.08 L432.35 927.17 L432.99 928.24 L433.64 929.28 L434.3 930.3 L434.96 931.3 L435.63 932.28 L436.31 933.25 L436.99 934.21 L437.67 935.17 L438.35 936.12 L439.03 937.08 L439.71 938.04 L440.39 939.01 L441.06 939.99 L441.74 940.97 L442.4 941.96 L443.07 942.96 L443.73 943.96 L444.38 944.97 L445.03 945.98 L445.68 947 L446.32 948.03 L446.96 949.06 L447.59 950.09 L448.21 951.13 L448.83 952.17 L449.45 953.21 L450.06 954.25 L450.66 955.3 L451.26 956.35 L451.85 957.4 L452.44 958.45 L453.03 959.5 L453.62 960.54 L454.21 961.59 L454.81 962.63 L455.41 963.66 L456.02 964.69 L456.64 965.72 L457.26 966.73 L457.9 967.74 L458.55 968.74 L459.22 969.73 L459.9 970.71 L460.6 971.68 L461.31 972.63 L462.05 973.57 L462.8 974.5 L463.57 975.42 L464.35 976.33 L465.15 977.23 L465.96 978.11 L466.79 978.99 L467.62 979.87 L468.47 980.73 L469.32 981.59 L470.18 982.44 L471.04 983.28 L471.91 984.13 L472.78 984.96 L473.66 985.8 L474.54 986.63 L475.42 987.45 L476.29 988.28 L477.17 989.11 L478.04 989.93 L478.91 990.76 L479.77 991.59 L480.63 992.42 L481.48 993.26 L482.33 994.1 L483.16 994.95 L483.99 995.81 L484.81 996.67 L485.61 997.55 L486.41 998.43 L487.19 999.33 L487.95 1000.23 L488.71 1001.15 L489.44 1002.09 L490.16 1003.04 L490.87 1004 L491.56 1004.97 L492.24 1005.96 L492.91 1006.95 L493.57 1007.96 L494.22 1008.97 L494.87 1009.99 L495.5 1011.01 L496.14 1012.04 L496.77 1013.08 L497.4 1014.12 L498.02 1015.16 L498.65 1016.2 L499.28 1017.24 L499.91 1018.28 L500.55 1019.32 L501.19 1020.35 L501.84 1021.38 L502.49 1022.41 L503.16 1023.43 L503.83 1024.44 L504.52 1025.44 L505.22 1026.42 L505.94 1027.4 L506.68 1028.35 L507.43 1029.28 L508.21 1030.18 L509.01 1031.06 L509.83 1031.91 L510.69 1032.72 L511.57 1033.5 L512.48 1034.24 L513.43 1034.94 L514.41 1035.6 L515.42 1036.21 L516.47 1036.76 L517.57 1037.27 L518.7 1037.73 L519.85 1038.14 L521.03 1038.53 L522.22 1038.9 L523.41 1039.25 L524.6 1039.6 L525.78 1039.95 L526.93 1040.32 L528.06 1040.71 L529.15 1041.14 L530.19 1041.6" stroke="#000" stroke-width="3.2" fill="none" stroke-linejoin="round" stroke-linecap="butt"/>
<rect x="104.9" y="1270.3" width="562.7" height="415.6" fill="none" stroke="#000" stroke-width="1.6"/>
<path d="M104.9 1685.9v8 M123.66 1685.9v4 M142.41 1685.9v4 M161.17 1685.9v4 M179.93 1685.9v4 M198.68 1685.9v8 M217.44 1685.9v4 M236.2 1685.9v4 M254.95 1685.9v4 M273.71 1685.9v4 M292.47 1685.9v8 M311.22 1685.9v4 M329.98 1685.9v4 M348.74 1685.9v4 M367.49 1685.9v4 M386.25 1685.9v8 M405.01 1685.9v4 M423.76 1685.9v4 M442.52 1685.9v4 M461.28 1685.9v4 M480.03 1685.9v8 M498.79 1685.9v4 M517.55 1685.9v4 M536.3 1685.9v4 M555.06 1685.9v4 M573.82 1685.9v8 M592.57 1685.9v4 M611.33 1685.9v4 M630.09 1685.9v4 M648.84 1685.9v4 M667.6 1685.9v8 M664.66 1270.3v-4.5 M640.59 1270.3v-8.5 M617.19 1270.3v-4.5 M594.45 1270.3v-4.5 M572.33 1270.3v-4.5 M550.8 1270.3v-4.5 M529.85 1270.3v-8.5 M509.45 1270.3v-4.5 M489.58 1270.3v-4.5 M470.22 1270.3v-4.5 M451.35 1270.3v-4.5 M432.95 1270.3v-8.5 M415.01 1270.3v-4.5 M397.5 1270.3v-4.5 M380.42 1270.3v-4.5 M363.74 1270.3v-4.5 M347.46 1270.3v-8.5 M331.55 1270.3v-4.5 M316.01 1270.3v-4.5 M300.82 1270.3v-4.5 M285.98 1270.3v-4.5 M271.46 1270.3v-8.5 M257.26 1270.3v-4.5 M243.37 1270.3v-4.5 M229.78 1270.3v-4.5 M216.48 1270.3v-4.5 M203.46 1270.3v-8.5 M190.71 1270.3v-4.5 M178.23 1270.3v-4.5 M165.99 1270.3v-4.5 M154.01 1270.3v-4.5 M142.26 1270.3v-8.5 M130.75 1270.3v-4.5 M119.46 1270.3v-4.5 M108.4 1270.3v-4.5 M104.9 1666.8h-8 M104.9 1628.98h-4 M104.9 1591.16h-8 M104.9 1553.34h-4 M104.9 1515.52h-8 M104.9 1477.7h-4 M104.9 1439.88h-8 M104.9 1402.06h-4 M104.9 1364.24h-8 M104.9 1326.42h-4 M104.9 1288.6h-8" stroke="#000" stroke-width="1.5" fill="none"/>
<line x1="106.8" y1="1667" x2="667" y2="1667" stroke="#000" stroke-width="1.9" stroke-dasharray="2.6 4.21"/>
<text x="104.9" y="1719.2" font-size="24.6" text-anchor="middle">1.2</text>
<text x="198.68" y="1719.2" font-size="24.6" text-anchor="middle">1.3</text>
<text x="292.47" y="1719.2" font-size="24.6" text-anchor="middle">1.4</text>
<text x="386.25" y="1719.2" font-size="24.6" text-anchor="middle">1.5</text>
<text x="480.03" y="1719.2" font-size="24.6" text-anchor="middle">1.6</text>
<text x="573.82" y="1719.2" font-size="24.6" text-anchor="middle">1.7</text>
<text x="667.6" y="1719.2" font-size="24.6" text-anchor="middle">1.8</text>
<text x="142.26" y="1260.4" font-size="24.6" text-anchor="middle">1000</text>
<text x="203.46" y="1260.4" font-size="24.6" text-anchor="middle">950</text>
<text x="271.46" y="1260.4" font-size="24.6" text-anchor="middle">900</text>
<text x="347.46" y="1260.4" font-size="24.6" text-anchor="middle">850</text>
<text x="432.95" y="1260.4" font-size="24.6" text-anchor="middle">800</text>
<text x="529.85" y="1260.4" font-size="24.6" text-anchor="middle">750</text>
<text x="640.59" y="1260.4" font-size="24.6" text-anchor="middle">700</text>
<text x="90.7" y="1673.6" font-size="24.6" text-anchor="end">0.0</text>
<text x="90.7" y="1597.96" font-size="24.6" text-anchor="end">0.2</text>
<text x="90.7" y="1522.32" font-size="24.6" text-anchor="end">0.4</text>
<text x="90.7" y="1446.68" font-size="24.6" text-anchor="end">0.6</text>
<text x="90.7" y="1371.04" font-size="24.6" text-anchor="end">0.8</text>
<text x="90.7" y="1295.4" font-size="24.6" text-anchor="end">1.0</text>
<text x="403" y="1755.8" font-size="32.6" text-anchor="middle">Excitation energy (eV)</text>
<text transform="translate(330 1229.7) scale(0.93 0.826)" font-size="33" font-family='"Noto Serif CJK SC", "Liberation Serif", serif'>λ</text>
<text x="356.1" y="1229.7" font-size="33.7">(nm)</text>
<text transform="translate(39.6 1612.4) rotate(-90)" font-size="28.4">Normalised Intensity</text>
<text x="120.9" y="1310.6" font-size="29">(c)</text>
<text x="430.8" y="1307.4" font-size="26.45">Excitation spectrum</text>
<line x1="430.3" y1="1330.5" x2="475.5" y2="1330.5" stroke="#000" stroke-width="3.4"/>
<text x="481.1" y="1337.2" font-size="24.5">IRPL@7 K</text>
<line x1="430.3" y1="1360.4" x2="475.5" y2="1360.4" stroke="#e80505" stroke-width="3.4"/>
<text x="481.1" y="1367" font-size="24.5">IRSL@295 K</text>
<path d="M205.3 1657.6 L208.8 1654.6 L212.3 1652.8 L214 1650.2 L216.6 1648.4 L220.1 1644.1 L222.8 1638.8 L223.6 1635.3 L226.3 1631.8 L229.8 1626.5 L233.3 1622.2 L236.8 1618.7 L238.5 1613.4 L240.7 1608.8 L243.6 1601.5 L247.3 1595.7 L251.7 1592 L254.6 1586.9 L257.5 1583.3 L259 1576.7 L260.4 1570.9 L262.6 1566.5 L264.8 1563.6 L266.3 1559.2 L268.5 1554.8 L270.7 1551.2 L272.1 1546.1 L273.6 1542.4 L275 1535.8 L276.8 1529.5 L278.5 1524.3 L280.3 1515.5 L282.9 1510.3 L284.7 1504.2 L286.4 1493.6 L288.2 1484.9 L291.1 1477.6 L294 1464.2 L296.9 1451.1 L299.1 1444.5 L302 1436.5 L304.9 1426.3 L307.8 1419.7 L309.3 1410.9 L311.8 1398.8 L314 1385.7 L316.9 1374 L319.8 1362.3 L322 1352.8 L323.8 1343.4 L325.7 1339 L327.8 1331.7 L332 1310.3 L335.6 1303.3 L339.9 1296.3 L345.2 1291 L350.4 1287.5 L354.8 1291 L359.2 1298 L363.6 1303.3 L367.1 1312 L370.6 1316.4 L374.1 1322.6 L377.6 1334.8 L381.1 1345.3 L385.5 1355.8 L389.9 1361.1 L395.1 1371.6 L398.6 1382.1 L402.1 1391 L408.2 1406.3 L416.3 1422.7 L424.5 1443.1 L432.7 1459.5 L440.9 1473.8 L447 1490.1 L453.1 1504.4 L461.3 1520.8 L469.5 1535.1 L477.7 1545.3 L485.8 1557.6 L494 1567.8 L502.2 1576 L510.2 1582 L517 1589.1 L524 1600.7 L533.4 1607.7 L542.7 1615.9 L552 1621.8 L561.4 1628.3 L570.7 1632.3 L580.1 1637.6 L589.4 1642.1 L598.8 1645.1 L608.1 1648.6 L617.5 1653.3 L626.8 1656.8 L633.8 1659.1 L640.8 1658.7" stroke="#e80505" stroke-width="3.2" fill="none" stroke-linejoin="round" stroke-linecap="butt"/>
<path d="M246.8 1667.02 L247.51 1666.08 L248.23 1665.13 L248.94 1664.18 L249.66 1663.22 L250.36 1662.25 L251.06 1661.27 L251.75 1660.29 L252.42 1659.3 L253.08 1658.29 L253.72 1657.28 L254.33 1656.25 L254.93 1655.21 L255.49 1654.16 L256.02 1653.09 L256.53 1652.01 L256.99 1650.91 L257.43 1649.8 L257.85 1648.68 L258.23 1647.55 L258.6 1646.41 L258.95 1645.26 L259.29 1644.11 L259.62 1642.95 L259.94 1641.79 L260.25 1640.62 L260.56 1639.45 L260.87 1638.29 L261.19 1637.12 L261.5 1635.96 L261.82 1634.79 L262.14 1633.63 L262.46 1632.46 L262.77 1631.3 L263.09 1630.14 L263.41 1628.97 L263.73 1627.81 L264.04 1626.65 L264.36 1625.48 L264.67 1624.32 L264.98 1623.15 L265.29 1621.99 L265.6 1620.82 L265.91 1619.66 L266.21 1618.49 L266.51 1617.33 L266.8 1616.16 L267.09 1614.99 L267.38 1613.83 L267.66 1612.66 L267.94 1611.49 L268.22 1610.32 L268.49 1609.14 L268.75 1607.97 L269.01 1606.8 L269.26 1605.62 L269.51 1604.45 L269.75 1603.27 L269.98 1602.09 L270.21 1600.91 L270.44 1599.73 L270.65 1598.55 L270.87 1597.36 L271.08 1596.18 L271.28 1595 L271.48 1593.81 L271.68 1592.62 L271.87 1591.44 L272.06 1590.25 L272.25 1589.06 L272.43 1587.87 L272.62 1586.68 L272.8 1585.49 L272.98 1584.3 L273.15 1583.11 L273.33 1581.92 L273.5 1580.73 L273.68 1579.54 L273.85 1578.35 L274.02 1577.16 L274.2 1575.97 L274.37 1574.77 L274.55 1573.58 L274.72 1572.39 L274.9 1571.2 L275.08 1570.01 L275.26 1568.82 L275.44 1567.63 L275.62 1566.44 L275.81 1565.26 L276 1564.07 L276.19 1562.88 L276.39 1561.69 L276.59 1560.51 L276.79 1559.32 L277 1558.14 L277.21 1556.96 L277.43 1555.77 L277.65 1554.59 L277.88 1553.41 L278.11 1552.23 L278.34 1551.05 L278.58 1549.87 L278.82 1548.7 L279.07 1547.52 L279.31 1546.34 L279.57 1545.17 L279.82 1543.99 L280.08 1542.82 L280.34 1541.65 L280.6 1540.47 L280.87 1539.3 L281.14 1538.13 L281.41 1536.96 L281.68 1535.79 L281.96 1534.62 L282.24 1533.45 L282.52 1532.28 L282.8 1531.11 L283.08 1529.94 L283.37 1528.77 L283.65 1527.6 L283.94 1526.43 L284.23 1525.27 L284.52 1524.1 L284.81 1522.93 L285.1 1521.76 L285.39 1520.6 L285.68 1519.43 L285.98 1518.26 L286.27 1517.09 L286.56 1515.93 L286.85 1514.76 L287.15 1513.59 L287.44 1512.43 L287.73 1511.26 L288.02 1510.09 L288.31 1508.92 L288.6 1507.76 L288.89 1506.59 L289.18 1505.42 L289.46 1504.25 L289.75 1503.08 L290.03 1501.91 L290.31 1500.74 L290.59 1499.57 L290.87 1498.4 L291.15 1497.23 L291.42 1496.06 L291.69 1494.89 L291.96 1493.72 L292.23 1492.54 L292.49 1491.37 L292.75 1490.2 L293.01 1489.02 L293.26 1487.85 L293.51 1486.67 L293.76 1485.5 L294.01 1484.32 L294.25 1483.14 L294.49 1481.96 L294.72 1480.78 L294.96 1479.6 L295.19 1478.42 L295.42 1477.24 L295.64 1476.06 L295.86 1474.88 L296.08 1473.7 L296.3 1472.52 L296.52 1471.33 L296.73 1470.15 L296.94 1468.97 L297.15 1467.78 L297.35 1466.6 L297.56 1465.41 L297.76 1464.23 L297.96 1463.04 L298.16 1461.85 L298.35 1460.67 L298.55 1459.48 L298.74 1458.29 L298.93 1457.1 L299.12 1455.91 L299.31 1454.73 L299.49 1453.54 L299.68 1452.35 L299.86 1451.16 L300.04 1449.97 L300.22 1448.78 L300.4 1447.59 L300.58 1446.4 L300.76 1445.21 L300.93 1444.02 L301.11 1442.83 L301.29 1441.64 L301.46 1440.45 L301.63 1439.25 L301.81 1438.06 L301.98 1436.87 L302.15 1435.68 L302.32 1434.49 L302.49 1433.3 L302.66 1432.11 L302.83 1430.92 L303 1429.72 L303.17 1428.53 L303.34 1427.34 L303.51 1426.15 L303.68 1424.96 L303.85 1423.77 L304.02 1422.58 L304.19 1421.39 L304.36 1420.19 L304.53 1419 L304.7 1417.81 L304.88 1416.62 L305.05 1415.43 L305.22 1414.24 L305.39 1413.05 L305.57 1411.86 L305.74 1410.67 L305.92 1409.48 L306.09 1408.29 L306.27 1407.1 L306.44 1405.91 L306.62 1404.72 L306.8 1403.54 L306.98 1402.35 L307.16 1401.16 L307.34 1399.97 L307.52 1398.78 L307.7 1397.59 L307.88 1396.4 L308.07 1395.22 L308.25 1394.03 L308.44 1392.84 L308.62 1391.65 L308.81 1390.47 L309 1389.28 L309.19 1388.09 L309.38 1386.9 L309.57 1385.72 L309.76 1384.53 L309.95 1383.34 L310.15 1382.16 L310.34 1380.97 L310.54 1379.78 L310.74 1378.6 L310.93 1377.41 L311.13 1376.22 L311.34 1375.04 L311.54 1373.85 L311.74 1372.67 L311.95 1371.48 L312.15 1370.3 L312.36 1369.11 L312.57 1367.93 L312.78 1366.74 L312.99 1365.56 L313.21 1364.37 L313.42 1363.19 L313.64 1362 L313.86 1360.82 L314.08 1359.63 L314.3 1358.45 L314.52 1357.27 L314.75 1356.08 L314.97 1354.9 L315.2 1353.71 L315.43 1352.53 L315.66 1351.35 L315.89 1350.17 L316.13 1348.98 L316.37 1347.8 L316.61 1346.62 L316.85 1345.44 L317.1 1344.26 L317.35 1343.08 L317.6 1341.9 L317.86 1340.72 L318.12 1339.54 L318.39 1338.37 L318.66 1337.2 L318.93 1336.03 L319.22 1334.86 L319.51 1333.69 L319.8 1332.52 L320.1 1331.36 L320.41 1330.2 L320.72 1329.04 L321.05 1327.88 L321.38 1326.73 L321.71 1325.58 L322.06 1324.43 L322.41 1323.29 L322.78 1322.15 L323.15 1321.01 L323.53 1319.87 L323.92 1318.74 L324.32 1317.61 L324.74 1316.49 L325.16 1315.37 L325.59 1314.26 L326.04 1313.15 L326.49 1312.04 L326.96 1310.94 L327.44 1309.84 L327.93 1308.75 L328.43 1307.66 L328.95 1306.57 L329.48 1305.5 L330.02 1304.42 L330.58 1303.36 L331.16 1302.3 L331.76 1301.25 L332.39 1300.2 L333.04 1299.17 L333.73 1298.15 L334.45 1297.14 L335.2 1296.15 L336 1295.17 L336.83 1294.22 L337.71 1293.3 L338.62 1292.44 L339.56 1291.64 L340.54 1290.92 L341.55 1290.29 L342.6 1289.76 L343.67 1289.34 L344.76 1289.04 L345.87 1288.85 L346.98 1288.78 L348.1 1288.83 L349.21 1289 L350.31 1289.28 L351.4 1289.64 L352.49 1290.09 L353.55 1290.6 L354.6 1291.16 L355.63 1291.78 L356.65 1292.45 L357.64 1293.17 L358.63 1293.92 L359.59 1294.7 L360.54 1295.52 L361.47 1296.36 L362.39 1297.21 L363.28 1298.09 L364.17 1298.97 L365.03 1299.86 L365.88 1300.75 L366.71 1301.64 L367.52 1302.52 L368.32 1303.41 L369.09 1304.3 L369.83 1305.2 L370.56 1306.12 L371.25 1307.06 L371.91 1308.02 L372.54 1309 L373.15 1310 L373.73 1311.02 L374.28 1312.06 L374.81 1313.11 L375.32 1314.19 L375.8 1315.27 L376.27 1316.37 L376.71 1317.49 L377.14 1318.61 L377.55 1319.74 L377.94 1320.89 L378.32 1322.04 L378.68 1323.19 L379.04 1324.35 L379.38 1325.52 L379.71 1326.69 L380.03 1327.86 L380.35 1329.03 L380.65 1330.2 L380.95 1331.38 L381.24 1332.56 L381.52 1333.74 L381.8 1334.92 L382.07 1336.1 L382.33 1337.28 L382.59 1338.47 L382.84 1339.65 L383.09 1340.84 L383.33 1342.02 L383.57 1343.21 L383.81 1344.4 L384.04 1345.59 L384.27 1346.78 L384.5 1347.97 L384.73 1349.16 L384.95 1350.35 L385.18 1351.53 L385.4 1352.72 L385.62 1353.91 L385.85 1355.1 L386.07 1356.29 L386.29 1357.47 L386.52 1358.66 L386.75 1359.84 L386.98 1361.03 L387.21 1362.21 L387.44 1363.39 L387.68 1364.57 L387.93 1365.75 L388.17 1366.93 L388.42 1368.1 L388.68 1369.27 L388.94 1370.44 L389.21 1371.61 L389.48 1372.78 L389.76 1373.94 L390.05 1375.11 L390.35 1376.26 L390.65 1377.42 L390.96 1378.57 L391.28 1379.72 L391.61 1380.87 L391.95 1382.02 L392.3 1383.16 L392.65 1384.3 L393.02 1385.43 L393.4 1386.56 L393.8 1387.69 L394.2 1388.81 L394.62 1389.93 L395.04 1391.04 L395.49 1392.15 L395.94 1393.26 L396.41 1394.36 L396.89 1395.46 L397.39 1396.55 L397.9 1397.64 L398.43 1398.72 L398.97 1399.8 L399.52 1400.88 L400.07 1401.95 L400.64 1403.02 L401.21 1404.09 L401.79 1405.16 L402.37 1406.23 L402.95 1407.29 L403.54 1408.35 L404.13 1409.42 L404.71 1410.48 L405.3 1411.55 L405.88 1412.61 L406.45 1413.68 L407.03 1414.75 L407.59 1415.82 L408.15 1416.89 L408.69 1417.97 L409.23 1419.04 L409.77 1420.12 L410.3 1421.2 L410.82 1422.29 L411.35 1423.37 L411.87 1424.45 L412.39 1425.53 L412.91 1426.6 L413.44 1427.68 L413.97 1428.75 L414.5 1429.82 L415.04 1430.89 L415.59 1431.95 L416.15 1433.01 L416.72 1434.06 L417.3 1435.11 L417.89 1436.15 L418.49 1437.19 L419.1 1438.23 L419.71 1439.26 L420.33 1440.28 L420.96 1441.31 L421.6 1442.33 L422.24 1443.34 L422.89 1444.36 L423.54 1445.37 L424.19 1446.38 L424.85 1447.39 L425.52 1448.39 L426.18 1449.4 L426.85 1450.4 L427.52 1451.4 L428.19 1452.4 L428.86 1453.41 L429.54 1454.41 L430.21 1455.41 L430.88 1456.41 L431.55 1457.41 L432.22 1458.42 L432.88 1459.42 L433.55 1460.43 L434.21 1461.44 L434.86 1462.45 L435.52 1463.46 L436.17 1464.47 L436.82 1465.48 L437.47 1466.49 L438.12 1467.51 L438.77 1468.52 L439.41 1469.54 L440.05 1470.55 L440.69 1471.57 L441.33 1472.59 L441.97 1473.61 L442.61 1474.63 L443.25 1475.64 L443.89 1476.66 L444.52 1477.68 L445.16 1478.7 L445.8 1479.72 L446.43 1480.74 L447.07 1481.76 L447.71 1482.78 L448.35 1483.8 L448.98 1484.82 L449.62 1485.83 L450.26 1486.85 L450.91 1487.87 L451.55 1488.88 L452.19 1489.9 L452.84 1490.91 L453.49 1491.93 L454.14 1492.94 L454.79 1493.95 L455.44 1494.96 L456.1 1495.97 L456.75 1496.98 L457.41 1497.98 L458.08 1498.99 L458.75 1499.99 L459.42 1500.99 L460.09 1501.99 L460.77 1502.98 L461.46 1503.96 L462.16 1504.94 L462.86 1505.92 L463.58 1506.88 L464.3 1507.84 L465.04 1508.78 L465.78 1509.72 L466.54 1510.64 L467.31 1511.56 L468.1 1512.45 L468.9 1513.34 L469.71 1514.21 L470.55 1515.07 L471.4 1515.91 L472.26 1516.73 L473.15 1517.53 L474.06 1518.32 L474.98 1519.09 L475.92 1519.84 L476.87 1520.58 L477.84 1521.32 L478.81 1522.04 L479.78 1522.76 L480.77 1523.48 L481.75 1524.2 L482.73 1524.92 L483.7 1525.65 L484.67 1526.38 L485.63 1527.12 L486.57 1527.88 L487.51 1528.65 L488.42 1529.45 L489.32 1530.26 L490.19 1531.09 L491.04 1531.95 L491.88 1532.82 L492.7 1533.7 L493.52 1534.59 L494.34 1535.47 L495.17 1536.34 L496.01 1537.19 L496.87 1538.02 L497.76 1538.81 L498.67 1539.57 L499.62 1540.29 L500.59 1540.97 L501.59 1541.62 L502.61 1542.24 L503.65 1542.84 L504.7 1543.42 L505.77 1543.99 L506.84 1544.55 L507.92 1545.1 L509.01 1545.65 L510.09 1546.2 L511.16 1546.76 L512.23 1547.33 L513.29 1547.92 L514.34 1548.52 L515.36 1549.15 L516.37 1549.8 L517.37 1550.47 L518.35 1551.16 L519.32 1551.87 L520.27 1552.59 L521.22 1553.33 L522.15 1554.08 L523.08 1554.85 L524 1555.62 L524.91 1556.41 L525.81 1557.2 L526.71 1558 L527.61 1558.8 L528.5 1559.61 L529.4 1560.42 L530.29 1561.23 L531.18 1562.04 L532.08 1562.84 L532.97 1563.64 L533.88 1564.44 L534.78 1565.23 L535.7 1566.01 L536.62 1566.78 L537.54 1567.54 L538.48 1568.29 L539.43 1569.02 L540.39 1569.74 L541.36 1570.44 L542.34 1571.13 L543.33 1571.8 L544.33 1572.46 L545.34 1573.11 L546.36 1573.75 L547.38 1574.39 L548.4 1575.02 L549.43 1575.64 L550.47 1576.26 L551.5 1576.88 L552.54 1577.49 L553.57 1578.11 L554.6 1578.73 L555.63 1579.35 L556.66 1579.98 L557.68 1580.62 L558.7 1581.26 L559.72 1581.91 L560.73 1582.57 L561.73 1583.23 L562.73 1583.89 L563.73 1584.56 L564.73 1585.24 L565.72 1585.92 L566.71 1586.6 L567.7 1587.29 L568.68 1587.98 L569.66 1588.68 L570.64 1589.38 L571.62 1590.08 L572.6 1590.78 L573.57 1591.49 L574.55 1592.2 L575.52 1592.9 L576.49 1593.61 L577.46 1594.33 L578.43 1595.04 L579.4 1595.75 L580.37 1596.46 L581.34 1597.18 L582.31 1597.89 L583.28 1598.6 L584.25 1599.31 L585.23 1600.02 L586.2 1600.72 L587.17 1601.43 L588.15 1602.13 L589.13 1602.83 L590.11 1603.53 L591.09 1604.22 L592.07 1604.91 L593.06 1605.6 L594.05 1606.28 L595.04 1606.96 L596.04 1607.63 L597.03 1608.3 L598.04 1608.96 L599.04 1609.62 L600.05 1610.27 L601.06 1610.92 L602.08 1611.56 L603.1 1612.19 L604.13 1612.82 L605.16 1613.43 L606.19 1614.05 L607.23 1614.65 L608.27 1615.26 L609.32 1615.85 L610.36 1616.45 L611.41 1617.04 L612.46 1617.63 L613.51 1618.22 L614.56 1618.81 L615.61 1619.4 L616.67 1619.98 L617.72 1620.57 L618.77 1621.16 L619.81 1621.75 L620.86 1622.35 L621.9 1622.95 L622.95 1623.55 L623.98 1624.16 L625.02 1624.78 L626.05 1625.4 L627.08 1626.02 L628.1 1626.66 L629.11 1627.3 L630.12 1627.95 L631.13 1628.61 L632.13 1629.28 L633.12 1629.97 L634.1 1630.66 L635.08 1631.36 L636.05 1632.08 L637 1632.81 L637.96 1633.56 L638.9 1634.32 L639.83 1635.09 L640.75 1635.88" stroke="#000" stroke-width="3.2" fill="none" stroke-linejoin="round" stroke-linecap="butt"/>
</svg></body></html>
